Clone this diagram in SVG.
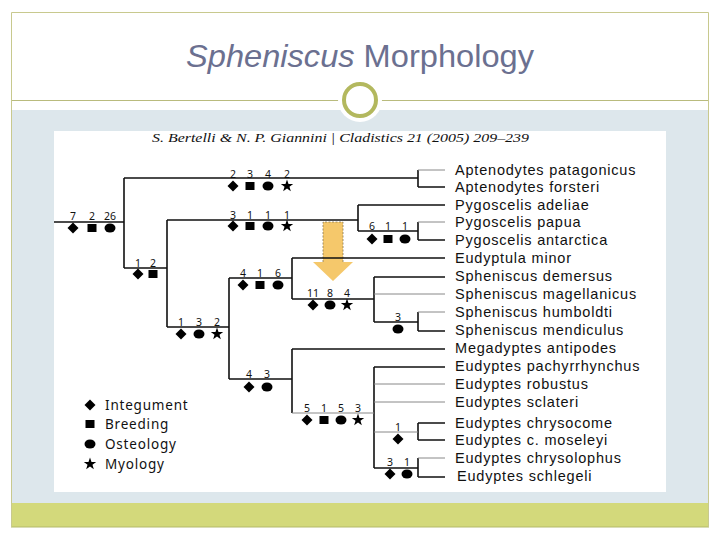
<svg xmlns="http://www.w3.org/2000/svg" xmlns:xlink="http://www.w3.org/1999/xlink" width="720" height="540" viewBox="0 0 720 540">
<style>
.tx{font-family:"Liberation Sans",Arial,sans-serif;font-size:14.5px;fill:#111;letter-spacing:0.8px}
.num{font-family:"Noto Sans","Liberation Sans",sans-serif;font-size:10.5px;fill:#111;text-anchor:middle}
.lg{font-family:"Noto Sans","Open Sans",sans-serif;font-size:13.5px;fill:#111;letter-spacing:0.8px}
.br{fill:none;stroke:#111;stroke-width:1.6}
.th{fill:none;stroke:#888;stroke-width:1}
</style>
<defs>
<polygon id="dia" points="0,-5.5 5.5,0 0,5.5 -5.5,0" fill="#000"/>
<rect id="sq" x="-4.5" y="-4" width="9" height="8" fill="#000"/>
<ellipse id="ov" rx="5.5" ry="4.5" fill="#000"/>
<polygon id="st" points="0,-6.5 1.53,-2.1 6.18,-2.01 2.47,0.8 3.82,5.26 0,2.6 -3.82,5.26 -2.47,0.8 -6.18,-2.01 -1.53,-2.1" fill="#000"/>
</defs>
<rect width="720" height="540" fill="#fff"/>
<g id="slide">
<rect x="12" y="110" width="696" height="393" fill="#dde7ec"/>
<rect x="12" y="503" width="696" height="24" fill="#d3d97b"/>
<line x1="11" y1="527" x2="709" y2="527" stroke="#b4ba6a" stroke-width="1.2"/>
<path d="M11.5,527 V12.5 H708.5 V527" fill="none" stroke="#c8c98e" stroke-width="1"/>
<line x1="12" y1="100.5" x2="708" y2="100.5" stroke="#b9bb7d" stroke-width="1.2"/>
<circle cx="360" cy="100" r="22" fill="#fff"/>
<circle cx="360" cy="100" r="16" fill="#fff" stroke="#b3b85e" stroke-width="4"/>
<text x="360" y="67" text-anchor="middle" font-family="'Liberation Sans',Arial,sans-serif" font-size="32" fill="#6b7090" textLength="348" lengthAdjust="spacingAndGlyphs"><tspan font-style="italic">Spheniscus</tspan> Morphology</text>
<rect x="54" y="131" width="612" height="361" fill="#fff"/>
</g>
<text x="152" y="142" font-family="'Liberation Serif','Times New Roman',serif" font-style="italic" font-size="13.5" fill="#111" textLength="377" lengthAdjust="spacingAndGlyphs">S. Bertelli &amp; N. P. Giannini  |  Cladistics 21 (2005) 209–239</text>
<g id="arrow">
<polygon points="323,222 343,222 343,262 353,262 333,281 313,262 323,262" fill="#f5c86b"/>
<path d="M323,262 V222 H343 V262" fill="none" stroke="#8a7a55" stroke-width="0.8" stroke-dasharray="2,1.5"/>
</g>
<g id="connectors">
<path class="br" d="M54,222 H124 M124,178 V268 M124,178 H418 M418,170 V187 M418,187 H445
M124,268 H167 M167,220 V327 M167,220 H358 M358,205 V231 M358,205 H445 M358,231 H418 M418,222 V240 M418,240 H445
M167,327 H229 M229,278 V379 M229,278 H292 M292,258 V299 M292,258 H445 M292,299 H374 M374,277 V322 M374,277 H445 M374,322 H418 M418,312 V331 M418,331 H445
M229,379 H292 M292,349 V413 M292,349 H445 M374,367 V468 M374,367 H445 M418,423 V440 M418,423 H445 M418,440 H445 M374,468 H418 M418,458 V477 M418,477 H445"/>
<path class="th" d="M418,170 H445 M418,222 H445 M374,294 H445 M418,312 H445 M292,413 H374 M374,384 H445 M374,402 H445 M374,432 H418 M418,458 H445"/>
</g>
<g id="taxa">
<text class="tx" x="455" y="174.5">Aptenodytes patagonicus</text>
<text class="tx" x="455" y="191.5">Aptenodytes forsteri</text>
<text class="tx" x="455" y="209.5">Pygoscelis adeliae</text>
<text class="tx" x="455" y="226.5">Pygoscelis papua</text>
<text class="tx" x="455" y="244.5">Pygoscelis antarctica</text>
<text class="tx" x="455" y="262.5">Eudyptula minor</text>
<text class="tx" x="455" y="281">Spheniscus demersus</text>
<text class="tx" x="455" y="298.5">Spheniscus magellanicus</text>
<text class="tx" x="455" y="316.5">Spheniscus humboldti</text>
<text class="tx" x="455" y="334.5">Spheniscus mendiculus</text>
<text class="tx" x="455" y="353">Megadyptes antipodes</text>
<text class="tx" x="455" y="371">Eudyptes pachyrrhynchus</text>
<text class="tx" x="455" y="388.5">Eudyptes robustus</text>
<text class="tx" x="455" y="406.5">Eudyptes sclateri</text>
<text class="tx" x="455" y="427.5">Eudyptes chrysocome</text>
<text class="tx" x="455" y="444.5">Eudyptes c. moseleyi</text>
<text class="tx" x="455" y="463">Eudyptes chrysolophus</text>
<text class="tx" x="457" y="481">Eudyptes schlegeli</text>
</g>
<g id="char-root">
<text class="num" x="73" y="220">7</text><text class="num" x="92" y="220">2</text><text class="num" x="110" y="220">26</text>
<use href="#dia" x="73" y="228"/><use href="#sq" x="92" y="228"/><use href="#ov" x="110" y="228"/>
</g>
<g id="char-aptenodytes">
<text class="num" x="233" y="178">2</text><text class="num" x="250" y="178">3</text><text class="num" x="268" y="178">4</text><text class="num" x="287" y="178">2</text>
<use href="#dia" x="233" y="186"/><use href="#sq" x="250" y="186"/><use href="#ov" x="268" y="186"/><use href="#st" x="287" y="186"/>
</g>
<g id="char-pygoscelis">
<text class="num" x="233" y="219">3</text><text class="num" x="250" y="219">1</text><text class="num" x="268" y="219">1</text><text class="num" x="287" y="219">1</text>
<use href="#dia" x="233" y="226"/><use href="#sq" x="250" y="226"/><use href="#ov" x="268" y="226"/><use href="#st" x="287" y="226"/>
</g>
<g id="char-papua-antarctica">
<text class="num" x="372" y="230">6</text><text class="num" x="388" y="230">1</text><text class="num" x="405" y="230">1</text>
<use href="#dia" x="372" y="239"/><use href="#sq" x="388" y="239"/><use href="#ov" x="405" y="239"/>
</g>
<g id="char-n12">
<text class="num" x="138" y="267">1</text><text class="num" x="153" y="267">2</text>
<use href="#dia" x="138" y="274"/><use href="#sq" x="153" y="274"/>
</g>
<g id="char-n416">
<text class="num" x="243" y="277">4</text><text class="num" x="260" y="277">1</text><text class="num" x="278" y="277">6</text>
<use href="#dia" x="243" y="285"/><use href="#sq" x="260" y="285"/><use href="#ov" x="278" y="285"/>
</g>
<g id="char-spheniscus">
<text class="num" x="313" y="297">11</text><text class="num" x="330" y="297">8</text><text class="num" x="347" y="297">4</text>
<use href="#dia" x="313" y="305"/><use href="#ov" x="330" y="305"/><use href="#st" x="347" y="305"/>
</g>
<g id="char-humboldti">
<text class="num" x="398" y="321">3</text>
<use href="#ov" x="398" y="329"/>
</g>
<g id="char-n132">
<text class="num" x="181" y="326">1</text><text class="num" x="199" y="326">3</text><text class="num" x="217" y="326">2</text>
<use href="#dia" x="181" y="334"/><use href="#ov" x="199" y="334"/><use href="#st" x="217" y="334"/>
</g>
<g id="char-n43">
<text class="num" x="249" y="378">4</text><text class="num" x="267" y="378">3</text>
<use href="#dia" x="249" y="387"/><use href="#ov" x="267" y="387"/>
</g>
<g id="char-eudyptes">
<text class="num" x="307" y="412">5</text><text class="num" x="324" y="412">1</text><text class="num" x="341" y="412">5</text><text class="num" x="358" y="412">3</text>
<use href="#dia" x="307" y="420"/><use href="#sq" x="324" y="420"/><use href="#ov" x="341" y="420"/><use href="#st" x="358" y="420"/>
</g>
<g id="char-chrysocome">
<text class="num" x="398" y="431">1</text>
<use href="#dia" x="398" y="439"/>
</g>
<g id="char-chrysolophus">
<text class="num" x="390" y="466">3</text><text class="num" x="407" y="466">1</text>
<use href="#dia" x="390" y="474"/><use href="#ov" x="407" y="474"/>
</g>
<g id="legend">
<use href="#dia" x="90" y="405"/><text class="lg" x="105" y="410">Integument</text>
<use href="#sq" x="90" y="424"/><text class="lg" x="105" y="429">Breeding</text>
<use href="#ov" x="90" y="444"/><text class="lg" x="105" y="449">Osteology</text>
<use href="#st" x="90" y="464"/><text class="lg" x="105" y="469">Myology</text>
</g>
</svg>
